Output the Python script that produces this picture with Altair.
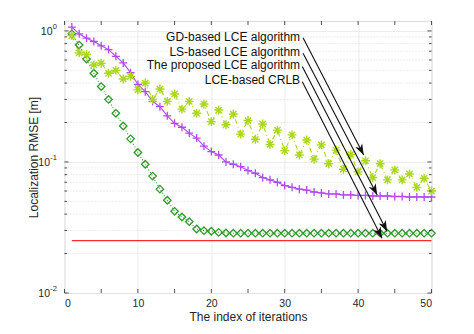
import altair as alt
import pandas as pd

# ---------------- data ----------------
iterations = list(range(1, 51))
gd_rmse = [0.92, 0.68, 0.66, 0.55, 0.567, 0.475, 0.50, 0.43, 0.45, 0.355,
           0.40, 0.30, 0.36, 0.29, 0.33, 0.253, 0.29, 0.235, 0.277, 0.203,
           0.249, 0.192, 0.232, 0.163, 0.207, 0.149, 0.195, 0.136, 0.175, 0.122,
           0.161, 0.113, 0.147, 0.105, 0.135, 0.097, 0.123, 0.088, 0.114, 0.084,
           0.102, 0.076, 0.097, 0.073, 0.087, 0.073, 0.081, 0.064, 0.075, 0.060]
ls_rmse = [1.07, 0.95, 0.88, 0.83, 0.77, 0.72, 0.64, 0.57, 0.48, 0.39,
           0.344, 0.29, 0.264, 0.225, 0.197, 0.184, 0.166, 0.152, 0.132, 0.12,
           0.113, 0.100, 0.096, 0.092, 0.086, 0.082, 0.076, 0.073, 0.070, 0.066,
           0.064, 0.062, 0.061, 0.059, 0.058, 0.057, 0.057, 0.056, 0.056, 0.0555,
           0.0555, 0.055, 0.055, 0.055, 0.0545, 0.0545, 0.054, 0.054, 0.054, 0.054]
prop_rmse = [0.95, 0.78, 0.61, 0.475, 0.376, 0.30, 0.235, 0.188, 0.15, 0.118,
             0.096, 0.078, 0.062, 0.051, 0.042, 0.038, 0.035, 0.0308, 0.0299, 0.0296,
             0.029, 0.0287, 0.0286, 0.0286, 0.0286, 0.0286, 0.0286, 0.0286, 0.0286, 0.0286,
             0.0286, 0.0286, 0.0286, 0.0286, 0.0286, 0.0286, 0.0286, 0.0286, 0.0286, 0.0286,
             0.0286, 0.0286, 0.0286, 0.0286, 0.0286, 0.0286, 0.0286, 0.0286, 0.0286, 0.0286]
crlb_rmse = [0.0251] * 50

# annotation texts and arrows (data coordinates)
ann_labels = ["GD-based LCE algorithm", "LS-based LCE algorithm",
              "The proposed LCE algorithm", "LCE-based CRLB"]
ann_text_x = [32.1, 32.1, 32.1, 32.1]
ann_text_y = [0.905, 0.695, 0.55, 0.423]
arrow_x0 = [32.5, 32.5, 32.4, 32.4]
arrow_y0 = [0.885, 0.676, 0.534, 0.41]
arrow_x1 = [40.76, 42.6, 43.96, 43.27]
arrow_y1 = [0.113, 0.056, 0.0294, 0.0262]

x_ticks = [0, 5, 10, 15, 20, 25, 30, 35, 40, 45, 50]
y_major = [0.01, 0.1, 1]
y_minor = [0.02, 0.03, 0.04, 0.05, 0.06, 0.07, 0.08, 0.09,
           0.2, 0.3, 0.4, 0.5, 0.6, 0.7, 0.8, 0.9]
y_exp = ["-2", "-1", "0"]

Y_TOP = 1.19
FONT = "Liberation Sans"
INK = "#262626"

xs = alt.Scale(domain=[0, 50], nice=False, zero=False)
ys = alt.Scale(type="log", domain=[0.01, Y_TOP], nice=False)

series = pd.DataFrame({"it": iterations, "gd": gd_rmse, "ls": ls_rmse,
                       "prop": prop_rmse, "crlb": crlb_rmse})

base = alt.Chart(series)

x_enc = alt.X("it:Q", scale=xs,
              axis=alt.Axis(values=x_ticks, grid=True, gridColor="#e4e4e4", gridWidth=0.7,
                            ticks=False, tickSize=0, domain=False,
                            labelFont=FONT, labelFontSize=10.5, labelColor=INK, labelPadding=5,
                            title="The index of iterations", titleFont=FONT, titleFontSize=12,
                            titleFontWeight="normal", titleColor=INK, titlePadding=3))


def yenc(field):
    return alt.Y(field + ":Q", scale=ys,
                 axis=alt.Axis(values=y_major, grid=True, gridColor="#e4e4e4", gridWidth=0.7,
                               labels=False, ticks=False, tickSize=0, domain=False,
                               title="Localization RMSE [m]", titleFont=FONT, titleFontSize=12,
                               titleFontWeight="normal", titleColor=INK, titlePadding=24))


# minor grid
minor_df = pd.DataFrame({"v": y_minor})
minor_grid = alt.Chart(minor_df).mark_rule(color="#d0d0d0", strokeWidth=0.7, strokeDash=[1, 2]).encode(
    y=alt.Y("v:Q", scale=ys))

PLUS = "M-1,0L1,0M0,-1L0,1"
STAR = "M-1,0L1,0M0,-1L0,1M-0.7,-0.7L0.7,0.7M-0.7,0.7L0.7,-0.7"
ARROW = "M0,0L-0.36,-1L0,-0.72L0.36,-1Z"

C_GD = "#a9d81c"
C_LS = "#b24af2"
C_PR = "#2f9a2c"
C_CR = "#ff2b2b"

gd_line = base.mark_line(color=C_GD, strokeWidth=1.1, strokeDash=[5, 3, 1, 3]).encode(x=x_enc, y=yenc("gd"))
gd_pts = base.mark_point(shape=STAR, size=80, color=C_GD, strokeWidth=1.4, filled=False, opacity=1).encode(
    x=alt.X("it:Q", scale=xs), y=alt.Y("gd:Q", scale=ys))

ls_line = base.mark_line(color=C_LS, strokeWidth=1.1).encode(x=alt.X("it:Q", scale=xs), y=alt.Y("ls:Q", scale=ys))
ls_pts = base.mark_point(shape=PLUS, size=64, color=C_LS, strokeWidth=1.3, filled=False, opacity=1).encode(
    x=alt.X("it:Q", scale=xs), y=alt.Y("ls:Q", scale=ys))

pr_line = base.mark_line(color=C_PR, strokeWidth=1.1, strokeDash=[1, 2]).encode(
    x=alt.X("it:Q", scale=xs), y=alt.Y("prop:Q", scale=ys))
pr_pts = base.mark_point(shape="diamond", size=56, color=C_PR, strokeWidth=1.3, filled=False, opacity=1).encode(
    x=alt.X("it:Q", scale=xs), y=alt.Y("prop:Q", scale=ys))

cr_line = base.mark_line(color=C_CR, strokeWidth=1.4).encode(
    x=alt.X("it:Q", scale=xs), y=alt.Y("crlb:Q", scale=ys))

ann_df = pd.DataFrame({"label": ann_labels, "tx": ann_text_x, "ty": ann_text_y,
                       "x0": arrow_x0, "y0": arrow_y0, "x1": arrow_x1, "y1": arrow_y1})
ann_text = alt.Chart(ann_df).mark_text(align="right", baseline="middle", font=FONT, fontSize=12.0,
                                       color="#111111").encode(
    x=alt.X("tx:Q", scale=xs), y=alt.Y("ty:Q", scale=ys), text="label:N")
ann_rule = alt.Chart(ann_df).mark_rule(color="#111111", strokeWidth=1.1).encode(
    x=alt.X("x0:Q", scale=xs), y=alt.Y("y0:Q", scale=ys), x2="x1:Q", y2="y1:Q")
ann_head = alt.Chart(ann_df).mark_point(shape=ARROW, size=484, filled=True, color="#111111",
                                        opacity=1, angle=333, strokeWidth=0).encode(
    x=alt.X("x1:Q", scale=xs), y=alt.Y("y1:Q", scale=ys))

# inward ticks (drawn as rules through the scales)
TICK_F = 1.073   # ~4 px on the log axis
xt_df = pd.DataFrame({"x": x_ticks})
xt_bottom = alt.Chart(xt_df).mark_rule(color=INK, strokeWidth=0.8).encode(
    x=alt.X("x:Q", scale=xs), y=alt.datum(0.01, scale=ys), y2=alt.datum(0.01 * TICK_F))
xt_top = alt.Chart(xt_df).mark_rule(color=INK, strokeWidth=0.8).encode(
    x=alt.X("x:Q", scale=xs), y=alt.datum(Y_TOP / TICK_F, scale=ys), y2=alt.datum(Y_TOP))

ymaj_df = pd.DataFrame({"v": y_major, "e": y_exp})
yt_left = alt.Chart(ymaj_df).mark_rule(color=INK, strokeWidth=0.8).encode(
    y=alt.Y("v:Q", scale=ys), x=alt.datum(0, scale=xs), x2=alt.datum(0.55))
yt_right = alt.Chart(ymaj_df).mark_rule(color=INK, strokeWidth=0.8).encode(
    y=alt.Y("v:Q", scale=ys), x=alt.datum(49.45, scale=xs), x2=alt.datum(50))
ymin_left = alt.Chart(minor_df).mark_rule(color=INK, strokeWidth=0.8).encode(
    y=alt.Y("v:Q", scale=ys), x=alt.datum(0, scale=xs), x2=alt.datum(0.35))
ymin_right = alt.Chart(minor_df).mark_rule(color=INK, strokeWidth=0.8).encode(
    y=alt.Y("v:Q", scale=ys), x=alt.datum(49.65, scale=xs), x2=alt.datum(50))

# y tick labels 10^e
ten0 = alt.Chart(ymaj_df[ymaj_df.e == "0"]).mark_text(align="right", baseline="middle", font=FONT,
                                                     fontSize=10.5, color=INK, dx=-12, dy=1).encode(
    x=alt.datum(0, scale=xs), y=alt.Y("v:Q", scale=ys), text=alt.value("10"))
ten1 = alt.Chart(ymaj_df[ymaj_df.e != "0"]).mark_text(align="right", baseline="middle", font=FONT,
                                                     fontSize=10.5, color=INK, dx=-14.5, dy=1).encode(
    x=alt.datum(0, scale=xs), y=alt.Y("v:Q", scale=ys), text=alt.value("10"))
exps = alt.Chart(ymaj_df).mark_text(align="right", baseline="middle", font=FONT,
                                    fontSize=7.5, color=INK, dx=-7.5, dy=-4).encode(
    x=alt.datum(0, scale=xs), y=alt.Y("v:Q", scale=ys), text="e:N")

chart = alt.layer(
    gd_line, minor_grid, cr_line, pr_line, pr_pts, ls_line, ls_pts, gd_pts,
    ann_rule, ann_head, ann_text,
    xt_bottom, xt_top, yt_left, yt_right, ymin_left, ymin_right,
    ten0, ten1, exps,
).properties(
    width=367, height=272,
    autosize=alt.AutoSizeParams(type="none"),
    padding={"left": 64.5, "top": 21, "right": 42.5, "bottom": 41},
).configure_view(stroke=INK, strokeWidth=0.9).configure(background="white")

chart.save("out.html", embed_options={"renderer": "svg", "actions": False})
